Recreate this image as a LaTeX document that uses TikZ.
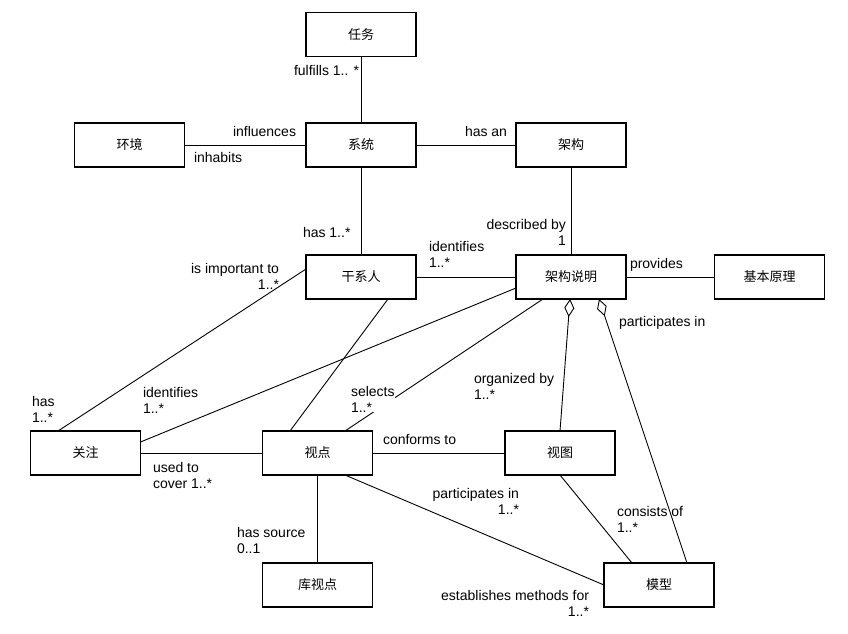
\documentclass[tikz,border=0pt]{standalone}
\usepackage{fontspec}
\setmainfont{Liberation Sans}
\newfontfamily\cjk{Noto Sans CJK SC}
\usetikzlibrary{arrows.meta,calc}
\begin{document}
\begin{tikzpicture}[x=1pt,y=-1pt,
 box/.style={draw, line width=1.2pt, minimum width=110pt, minimum height=44pt, inner sep=0pt, outer sep=0pt, font=\cjk\fontsize{13}{15}\selectfont},
 conn/.style={line width=0.9pt},
 lbl/.style={inner sep=0pt, outer sep=0pt, font=\fontsize{14}{16}\selectfont, anchor=north west, align=left},
 lblr/.style={lbl, anchor=north east, align=right},
 agg/.style={{Diamond[open,length=18pt,width=10pt]}-}
]
\useasboundingbox (0,0) rectangle (848,633);
% classes
\node[box] (task) at (361,34.5) {任务};
\node[box] (sys) at (361,145) {系统};
\node[box] (env) at (129.5,145) {环境};
\node[box] (arch) at (571,145) {架构};
\node[box] (stk) at (361,277) {干系人};
\node[box] (ad) at (571,277) {架构说明};
\node[box] (rat) at (769.5,277) {基本原理};
\node[box] (con) at (85.5,453) {关注};
\node[box] (vp) at (317.5,453) {视点};
\node[box] (view) at (560,453) {视图};
\node[box] (lib) at (317.5,585) {库视点};
\node[box] (model) at (659,585) {模型};
% connectors
\draw[conn] (task) -- (sys);
\draw[conn] (env) -- (sys);
\draw[conn] (sys) -- (arch);
\draw[conn] (sys) -- (stk);
\draw[conn] (arch) -- (ad);
\draw[conn] (stk) -- (ad);
\draw[conn] (ad) -- (rat);
\draw[conn] ([yshift=8pt]stk.west) -- ([xshift=-27.5pt]con.north);
\draw[conn] ([yshift=-11pt]ad.west) -- ([yshift=11pt]con.east);
\draw[conn] ([xshift=27pt]stk.south) -- ([xshift=-27.5pt]vp.north);
\draw[conn] ([xshift=-28pt]ad.south) -- ([xshift=27.5pt]vp.north);
\draw[conn,agg] ([xshift=-1pt]ad.south) -- (view.north);
\draw[conn,agg] ([xshift=28pt]ad.south) -- ([xshift=28pt]model.north);
\draw[conn] (view.south) -- ([xshift=-27pt]model.north);
\draw[conn] ([xshift=27.5pt]vp.south) -- (model.west);
\draw[conn] (vp) -- (lib);
\draw[conn] (con) -- (vp);
\draw[conn] (vp) -- (view);
% labels
\node[lbl] (l1) at (294,65) {fulfills 1.. *};
\node[lbl] (l2) at (233,126) {influences};
\node[lbl] (l3) at (194,152) {inhabits};
\node[lbl] (l4) at (465,126) {has an};
\node[lbl] (l5) at (303,227) {has 1..*};
\node[lblr] (l6) at (566,219) {described by\\1};
\node[lbl] (l7) at (429,241) {identifies\\1..*};
\node[lblr] (l8) at (279,263) {is important to\\1..*};
\node[lbl] (l9) at (630,258) {provides};
\node[lbl] (l10) at (619,316) {participates in};
\node[lbl] (l11) at (32,396) {has\\1..*};
\node[lbl] (l12) at (143,387) {identifies\\1..*};
\node[lbl,fill=white] (l13) at (351,386) {selects\\1..*};
\node[lbl] (l14) at (474,373) {organized by\\1..*};
\node[lbl] (l15) at (383,434) {conforms to};
\node[lbl] (l16) at (153,462) {used to\\cover 1..*};
\node[lbl] (l17) at (237,527) {has source\\0..1};
\node[lblr] (l18) at (519,488) {participates in\\1..*};
\node[lbl] (l19) at (617,506) {consists of\\1..*};
\node[lblr] (l20) at (589,590) {establishes methods for\\1..*};
\end{tikzpicture}
\end{document}
